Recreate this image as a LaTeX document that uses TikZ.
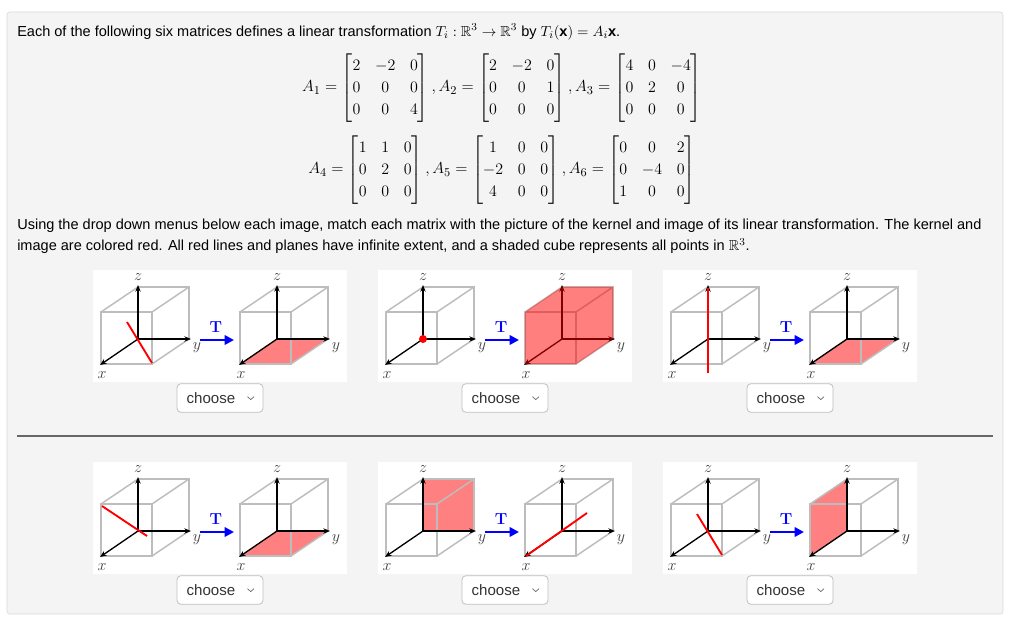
\documentclass[tikz,border=0pt]{standalone}
\usepackage{amsmath,amssymb}
\usepackage{fontspec}
\setmainfont{Liberation Sans}
\newfontfamily\lmr{Latin Modern Roman}
\usetikzlibrary{arrows.meta}
\definecolor{pagebg}{HTML}{F4F4F4}
\definecolor{edge}{HTML}{BDBDBD}
\definecolor{redfill}{HTML}{FF8080}
\tikzset{
  edgeline/.style={draw=edge,line width=1.1pt},
  axisline/.style={draw=black,line width=1pt,-{Stealth[length=5pt,width=4pt]}},
  kerline/.style={draw=red,line width=1.4pt},
  lbl/.style={font=\large,text=black!75},
  txt/.style={font=\fontsize{10.9}{13}\selectfont,anchor=west,inner sep=0pt},
  drop/.style={draw=black!25,fill=white,rounded corners=3pt,minimum width=64.5pt,minimum height=21.5pt,line width=0.6pt},
}
\newcommand\cubeedges{%
  \draw[edgeline] (-37,25) rectangle (14,-27);
  \draw[edgeline] (0,-52) -- (51,-52) -- (51,0);
  \draw[edgeline] (-37,-27) -- (0,-52) (14,-27) -- (51,-52) (14,25) -- (51,0);}
\newcommand\cubeaxes{%
  \draw[axisline] (0,0) -- (0,-54);
  \draw[axisline] (0,0) -- (53,0);
  \draw[axisline] (0,0) -- (-38,26);
  \node[lbl] at (0,-62) {$z$};
  \node[lbl] at (59,9) {$y$};
  \node[lbl] at (-36,36) {$x$};}
\newcommand\xyplane{\fill[redfill] (0,0) -- (-37,25) -- (14,25) -- (51,0) -- cycle;}
\newcommand\yzplane{\fill[redfill] (0,0) -- (51,0) -- (51,-52) -- (0,-52) -- cycle;}
\newcommand\xzplane{\fill[redfill] (0,0) -- (-37,25) -- (-37,-27) -- (0,-52) -- cycle;}
\newcommand\panel[7]{%
  \begin{scope}[shift={(#1,#2)}]
    \fill[white] (-45,-69) rectangle (209,43);
    #3\cubeedges\cubeaxes#5
    \draw[blue,line width=2pt,-{Triangle[length=7pt,width=7pt]}] (62,1) -- (96,1);
    \node[text=blue,font=\lmr\bfseries\large] at (78,-12) {T};
    \begin{scope}[shift={(139,0)}]
      #4\cubeedges\cubeaxes#6
    \end{scope}
    \node[drop] (#7) at (82,59) {};
    \node[font=\fontsize{11.3}{13}\selectfont,text=black!80,anchor=west] at ([xshift=4pt]#7.west) {choose};
    \draw[black!60,line width=0.5pt] ([xshift=-12pt,yshift=1pt]#7.east) -- ([xshift=-9.5pt,yshift=-1.2pt]#7.east) -- ([xshift=-7pt,yshift=1pt]#7.east);
  \end{scope}}
\begin{document}
\begin{tikzpicture}[x=0.75pt,y=-0.75pt]
\useasboundingbox (0,0) rectangle (1024,620);
\fill[white] (0,0) rectangle (1024,620);
\draw[fill=pagebg,draw=black!15,rounded corners=2pt] (7,12) rectangle (1003,614);
\node[txt] (t1) at (17,32) {Each of the following six matrices defines a linear transformation $T_i:\mathbb{R}^3\to\mathbb{R}^3$ by $T_i(\mathbf{x})=A_i\mathbf{x}$.};
\node[font=\fontsize{12.3}{14}\selectfont] (m1) at (502,88) {\renewcommand\arraystretch{1.2}\setlength\arraycolsep{5.5pt}$A_1=\begin{bmatrix}2&-2&0\\0&0&0\\0&0&4\end{bmatrix}, A_2=\begin{bmatrix}2&-2&0\\0&0&1\\0&0&0\end{bmatrix}, A_3=\begin{bmatrix}4&0&-4\\0&2&0\\0&0&0\end{bmatrix}$};
\node[font=\fontsize{12.3}{14}\selectfont] (m2) at (502,170) {\renewcommand\arraystretch{1.2}\setlength\arraycolsep{5.5pt}$A_4=\begin{bmatrix}1&1&0\\0&2&0\\0&0&0\end{bmatrix}, A_5=\begin{bmatrix}1&0&0\\-2&0&0\\4&0&0\end{bmatrix}, A_6=\begin{bmatrix}0&0&2\\0&-4&0\\1&0&0\end{bmatrix}$};
\node[txt] (t2) at (17,226) {Using the drop down menus below each image, match each matrix with the picture of the kernel and image of its linear transformation. The kernel and};
\node[txt] (t3) at (17,246) {image are colored red. All red lines and planes have infinite extent, and a shaded cube represents all points in $\mathbb{R}^3$.};
\panel{138}{339}{}{\xyplane}{\draw[kerline] (-11,-17) -- (14,24);}{}{d1}
\panel{423}{339}{}{}{\fill[red] (0,0) circle (4);}{\fill[red,opacity=0.5] (-37,25) -- (14,25) -- (51,0) -- (51,-52) -- (0,-52) -- (-37,-27) -- cycle;}{d2}
\panel{708}{339}{}{\xyplane}{\draw[kerline] (0,-51) -- (0,34);}{}{d3}
\draw[black!60,line width=0.8pt] (17,436) -- (993,436);
\panel{138}{531}{}{\xyplane}{\draw[kerline] (-36,-25) -- (9,5);}{}{d4}
\panel{423}{531}{\yzplane}{}{}{\draw[kerline] (-36,25) -- (25,-18);}{d5}
\panel{708}{531}{}{\xzplane}{\draw[kerline] (-11,-17) -- (14,24);}{}{d6}
\end{tikzpicture}
\end{document}
